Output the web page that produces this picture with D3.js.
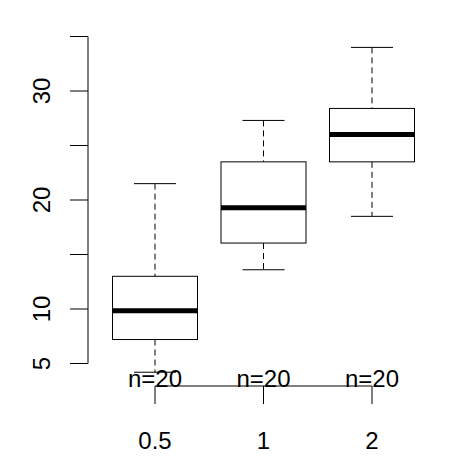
<!DOCTYPE html><html><head><script src="https://cdn.jsdelivr.net/npm/d3@7"></script>
<style>body{margin:0;background:#fff}</style></head><body><svg id="c" width="474" height="474"></svg>
<script>
const categories=["0.5","1","2"];
const mins=[4.2,13.6,18.5];
const q1s=[7.2,16.05,23.5];
const medians=[9.85,19.3,26.0];
const q3s=[13.0,23.5,28.4];
const maxs=[21.5,27.3,34.0];
const yTicks=[5,10,20,30];
const svg=d3.select("#c");
const y=d3.scaleLinear().domain([10,30]).range([309,91]);
const x=d3.scalePoint().domain(categories).range([155,372]);
const font="Liberation Sans, Arial, sans-serif";
const fs=24;
svg.append("line").attr("x1",88).attr("x2",88).attr("y1",y(35)).attr("y2",y(5)).attr("stroke","#000");
[5,10,15,20,25,30,35].forEach(v=>svg.append("line").attr("x1",88).attr("x2",70).attr("y1",y(v)).attr("y2",y(v)).attr("stroke","#000"));
yTicks.forEach(v=>svg.append("text").attr("transform",`translate(50,${y(v)}) rotate(-90)`).attr("text-anchor","middle").attr("font-family",font).attr("font-size",fs).text(v));
svg.append("line").attr("x1",155).attr("x2",372).attr("y1",386).attr("y2",386).attr("stroke","#000");
categories.forEach(c=>{svg.append("line").attr("x1",x(c)).attr("x2",x(c)).attr("y1",386).attr("y2",404).attr("stroke","#000");
svg.append("text").attr("x",x(c)).attr("y",449).attr("text-anchor","middle").attr("font-family",font).attr("font-size",fs).text(c);});
const bw=85,cw=42;
categories.forEach((c,i)=>{const cx=x(c);const g=svg.append("g").attr("stroke","#000").attr("fill","none");
g.append("line").attr("x1",cx).attr("x2",cx).attr("y1",y(maxs[i])).attr("y2",y(q3s[i])).attr("stroke-dasharray","6,4");
g.append("line").attr("x1",cx).attr("x2",cx).attr("y1",y(q1s[i])).attr("y2",y(mins[i])).attr("stroke-dasharray","6,4");
g.append("line").attr("x1",cx-cw/2).attr("x2",cx+cw/2).attr("y1",y(maxs[i])).attr("y2",y(maxs[i]));
g.append("line").attr("x1",cx-cw/2).attr("x2",cx+cw/2).attr("y1",y(mins[i])).attr("y2",y(mins[i]));
g.append("rect").attr("x",cx-bw/2).attr("width",bw).attr("y",y(q3s[i])).attr("height",y(q1s[i])-y(q3s[i])).attr("fill","#fff");
g.append("line").attr("x1",cx-bw/2).attr("x2",cx+bw/2).attr("y1",y(medians[i])).attr("y2",y(medians[i])).attr("stroke-width",5);
svg.append("text").attr("x",cx).attr("y",387).attr("text-anchor","middle").attr("font-family",font).attr("font-size",fs).text("n=20");});
</script></body></html>
